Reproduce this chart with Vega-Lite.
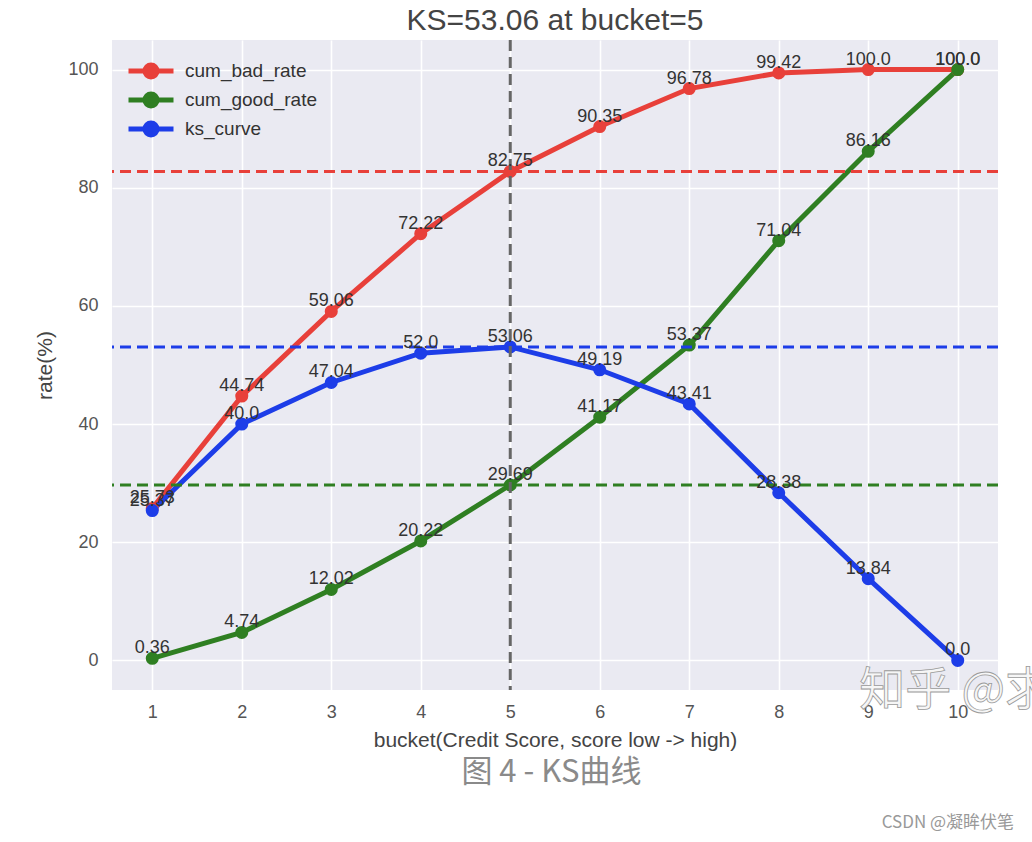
{
  "$schema": "https://vega.github.io/schema/vega-lite/v6.json",
  "width": 886,
  "height": 650,
  "autosize": {"type": "none"},
  "padding": {"left": 112, "top": 40, "right": 34, "bottom": 152},
  "background": "white",
  "config": {
    "font": "Liberation Sans",
    "view": {"fill": "#EAEAF2", "stroke": null},
    "axis": {
      "domain": false,
      "ticks": false,
      "gridColor": "white",
      "gridWidth": 1.6,
      "labelFontSize": 18,
      "labelColor": "#555555",
      "titleFontSize": 21,
      "titleFontWeight": "normal",
      "titleColor": "#444444"
    }
  },
  "title": {
    "text": "KS=53.06 at bucket=5",
    "fontSize": 30,
    "fontWeight": "normal",
    "color": "#444444",
    "offset": 3,
    "anchor": "middle"
  },
  "layer": [
    {
      "data": {
        "values": [
          {"bucket": 1, "series": "cum_bad_rate", "value": 25.73},
          {"bucket": 2, "series": "cum_bad_rate", "value": 44.74},
          {"bucket": 3, "series": "cum_bad_rate", "value": 59.06},
          {"bucket": 4, "series": "cum_bad_rate", "value": 72.22},
          {"bucket": 5, "series": "cum_bad_rate", "value": 82.75},
          {"bucket": 6, "series": "cum_bad_rate", "value": 90.35},
          {"bucket": 7, "series": "cum_bad_rate", "value": 96.78},
          {"bucket": 8, "series": "cum_bad_rate", "value": 99.42},
          {"bucket": 9, "series": "cum_bad_rate", "value": 100.0},
          {"bucket": 10, "series": "cum_bad_rate", "value": 100.0},
          {"bucket": 1, "series": "cum_good_rate", "value": 0.36},
          {"bucket": 2, "series": "cum_good_rate", "value": 4.74},
          {"bucket": 3, "series": "cum_good_rate", "value": 12.02},
          {"bucket": 4, "series": "cum_good_rate", "value": 20.22},
          {"bucket": 5, "series": "cum_good_rate", "value": 29.69},
          {"bucket": 6, "series": "cum_good_rate", "value": 41.17},
          {"bucket": 7, "series": "cum_good_rate", "value": 53.37},
          {"bucket": 8, "series": "cum_good_rate", "value": 71.04},
          {"bucket": 9, "series": "cum_good_rate", "value": 86.16},
          {"bucket": 10, "series": "cum_good_rate", "value": 100.0},
          {"bucket": 1, "series": "ks_curve", "value": 25.37},
          {"bucket": 2, "series": "ks_curve", "value": 40.0},
          {"bucket": 3, "series": "ks_curve", "value": 47.04},
          {"bucket": 4, "series": "ks_curve", "value": 52.0},
          {"bucket": 5, "series": "ks_curve", "value": 53.06},
          {"bucket": 6, "series": "ks_curve", "value": 49.19},
          {"bucket": 7, "series": "ks_curve", "value": 43.41},
          {"bucket": 8, "series": "ks_curve", "value": 28.38},
          {"bucket": 9, "series": "ks_curve", "value": 13.84},
          {"bucket": 10, "series": "ks_curve", "value": 0.0}
        ]
      },
      "encoding": {
        "x": {
          "field": "bucket",
          "type": "quantitative",
          "scale": {"domain": [0.55, 10.45], "nice": false, "zero": false},
          "axis": {
            "values": [1, 2, 3, 4, 5, 6, 7, 8, 9, 10],
            "format": "d",
            "title": "bucket(Credit Score, score low -> high)",
            "labelPadding": 13,
            "titlePadding": 8
          }
        },
        "y": {
          "field": "value",
          "type": "quantitative",
          "scale": {"domain": [-5, 105], "nice": false, "zero": false},
          "axis": {
            "values": [0, 20, 40, 60, 80, 100],
            "format": "d",
            "title": "rate(%)",
            "labelPadding": 14,
            "titlePadding": 12
          }
        }
      },
      "layer": [
        {
          "mark": {"type": "line", "strokeWidth": 5, "point": {"filled": true, "size": 170}},
          "encoding": {
            "color": {
              "field": "series",
              "type": "nominal",
              "scale": {
                "domain": ["cum_bad_rate", "cum_good_rate", "ks_curve"],
                "range": ["#e8403a", "#2f7f22", "#1d3de8"]
              },
              "legend": {
                "title": null,
                "orient": "none",
                "legendX": 29,
                "legendY": 21,
                "padding": 0,
                "symbolType": "M-3,0H3M-0.8,0A0.8,0.8 0 1,1 0.8,0A0.8,0.8 0 1,1 -0.8,0Z",
                "symbolSize": 225,
                "symbolStrokeWidth": 5,
                "labelFontSize": 19,
                "labelColor": "#333333",
                "labelOffset": 24,
                "rowPadding": -3,
                "encode": {
                  "symbols": {
                    "update": {
                      "fill": {"scale": "color", "field": "value"},
                      "stroke": {"scale": "color", "field": "value"},
                      "opacity": {"value": 1}
                    }
                  }
                }
              }
            }
          }
        },
        {
          "transform": [{"filter": "datum.bucket == 5"}],
          "mark": {"type": "rule", "strokeWidth": 3, "strokeDash": [11, 6]},
          "encoding": {
            "x": null,
            "color": {"field": "series", "type": "nominal", "legend": null}
          }
        },
        {
          "transform": [{"filter": "datum.bucket == 5 && datum.series == 'ks_curve'"}],
          "mark": {"type": "rule", "strokeWidth": 3, "strokeDash": [11, 6], "color": "#666666"},
          "encoding": {"y": null}
        },
        {
          "transform": [
            {"calculate": "datum.value % 1 == 0 ? format(datum.value, '.1f') : toString(datum.value)", "as": "label"}
          ],
          "mark": {"type": "text", "baseline": "bottom", "align": "center", "fontSize": 18, "color": "#333333", "dy": -1},
          "encoding": {"text": {"field": "label"}}
        }
      ]
    },
    {
      "data": {"values": [{"note": "图 4 - KS曲线"}]},
      "mark": {"type": "text", "fontSize": 31, "color": "#8a8a8a", "baseline": "middle", "align": "center", "font": "Noto Sans CJK SC"},
      "encoding": {
        "x": {"datum": 5.46, "type": "quantitative"},
        "y": {"datum": -19, "type": "quantitative"},
        "text": {"field": "note", "type": "nominal"}
      }
    },
    {
      "data": {"values": [{"note": "CSDN @凝眸伏笔"}]},
      "mark": {"type": "text", "fontSize": 17, "color": "#999999", "baseline": "middle", "align": "center", "font": "Noto Sans CJK SC"},
      "encoding": {
        "x": {"datum": 9.89, "type": "quantitative"},
        "y": {"datum": -27.5, "type": "quantitative"},
        "text": {"field": "note", "type": "nominal"}
      }
    },
    {
      "data": {"values": [{"note": "知乎 @求"}]},
      "mark": {"type": "text", "fontSize": 46, "color": "#f6f6f6", "stroke": "#9a9a9a", "strokeWidth": 0.8, "baseline": "middle", "align": "left", "font": "Noto Sans CJK SC"},
      "encoding": {
        "x": {"datum": 8.9, "type": "quantitative"},
        "y": {"datum": -5.2, "type": "quantitative"},
        "text": {"field": "note", "type": "nominal"}
      }
    }
  ]
}
